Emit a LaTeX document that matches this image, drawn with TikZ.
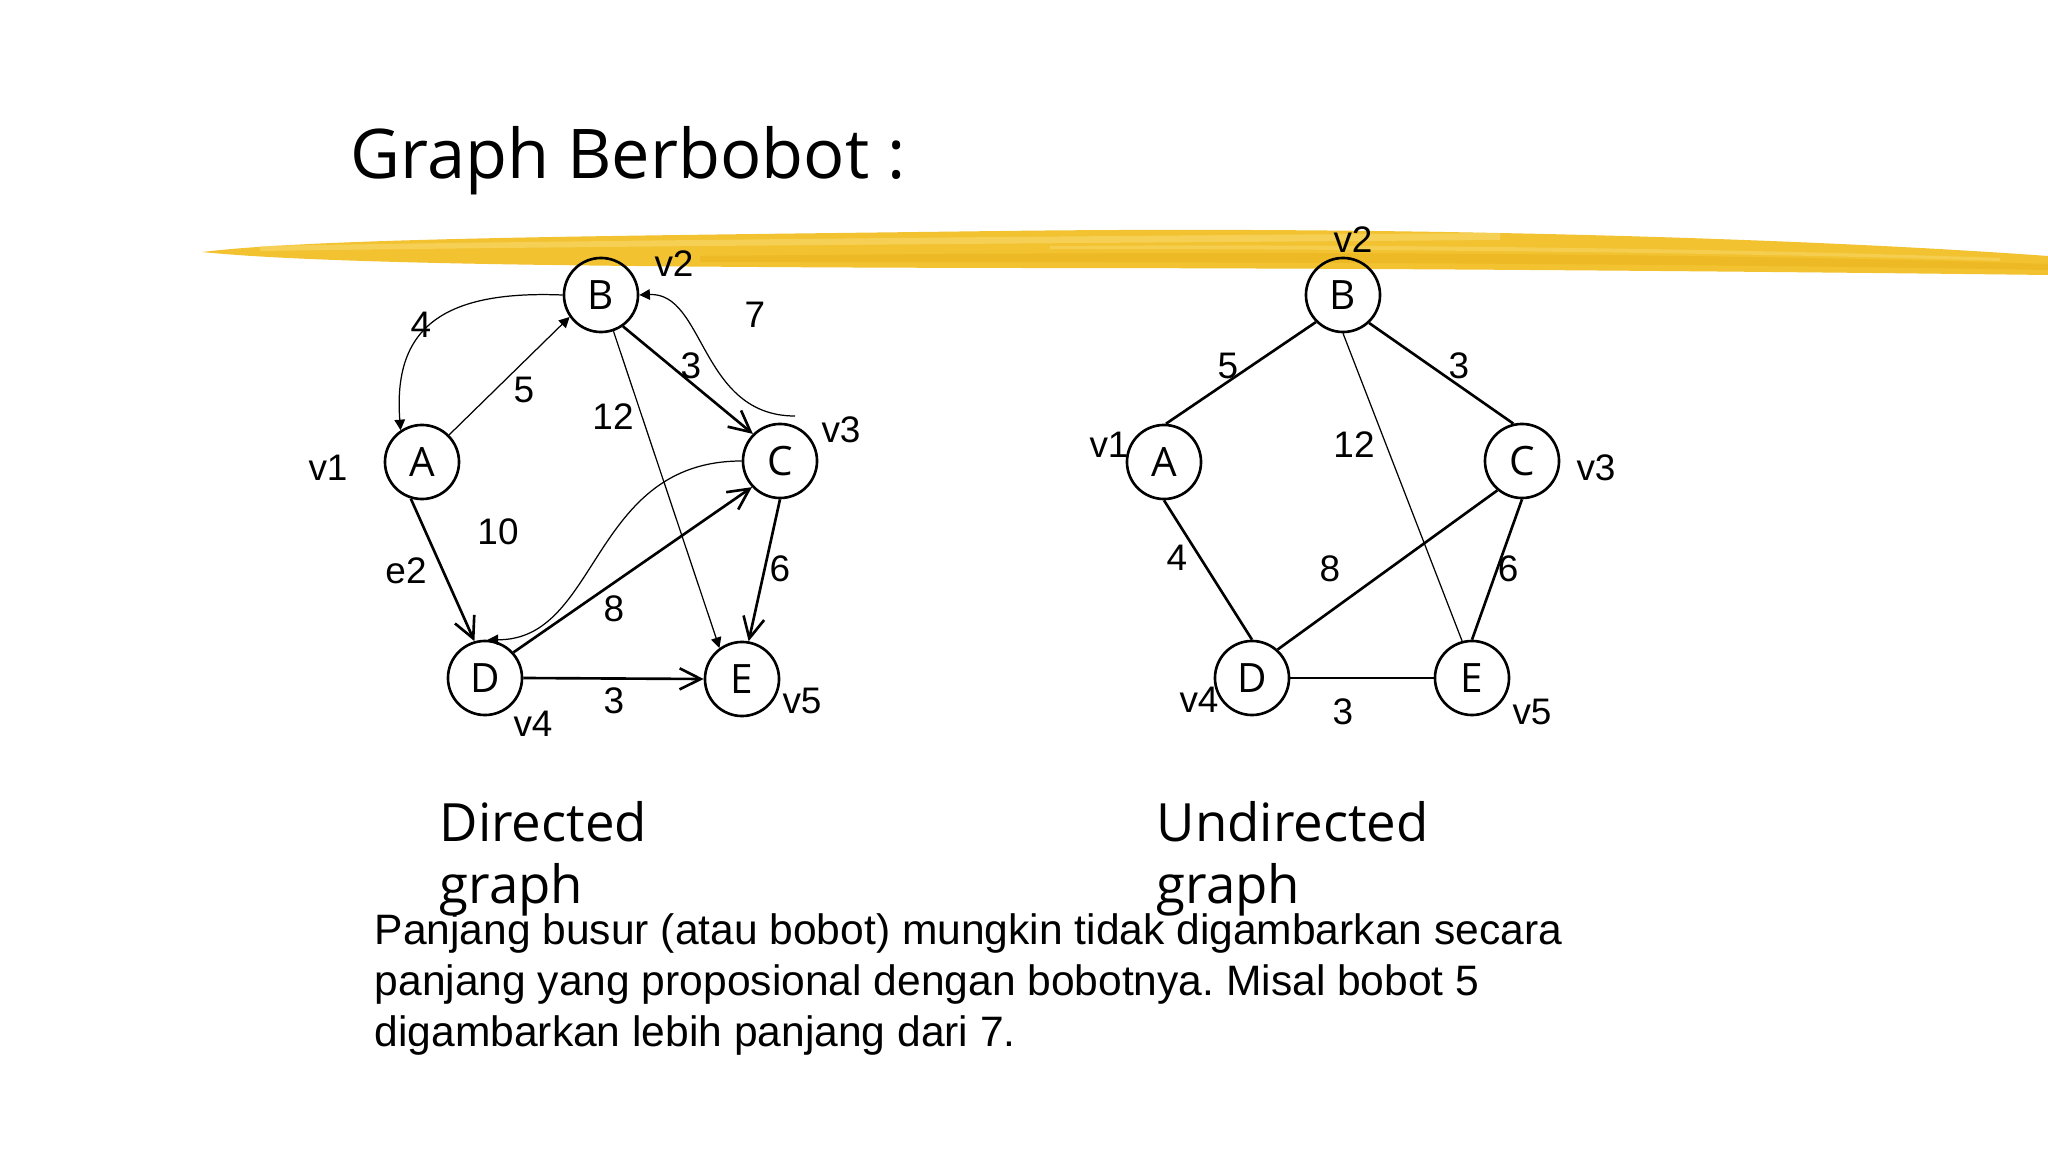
\documentclass[tikz,border=0pt]{standalone}
\usepackage{fontspec}
\setmainfont{Liberation Sans}
\newfontfamily\opensans{Open Sans}
\usetikzlibrary{arrows.meta}
\definecolor{brushyellow}{HTML}{F2C230}
\definecolor{brushlight}{HTML}{F8DA6E}
\definecolor{brushdark}{HTML}{E9B21A}

\begin{document}
\frenchspacing
\begin{tikzpicture}[
    x=0.01cm, y=0.01cm,
    vertex/.style={circle, draw, line width=0.75pt, minimum size=0.74cm, inner sep=0pt, font=\opensans\fontsize{11.5}{13}\selectfont},
    tag/.style={inner sep=1pt, font=\fontsize{10.5}{12}\selectfont},
    heavy/.style={line width=0.75pt},
    light/.style={line width=0.35pt},
    heavyarc/.style={heavy, -{Straight Barb[length=6pt, width=6pt]}},
    lightarc/.style={light, -{Triangle[length=3pt, width=3pt]}},
    caption/.style={anchor=north west, inner sep=0pt, align=left, font=\opensans\fontsize{15}{17.6}\selectfont}
]
    % Page
    \fill[white] (0,0) rectangle (2048,-1152);
    \useasboundingbox (0,0) rectangle (2048,-1152);

    % Brush stroke
    \fill[brushyellow] (202,-252) .. controls (320,-238) and (600,-236) .. (1000,-231) .. controls (1400,-226) and (1800,-238) .. (2048,-256) -- (2048,-275) .. controls (1800,-272) and (1400,-268) .. (1000,-268) .. controls (600,-267) and (320,-264) .. (202,-252) -- cycle;
    \fill[brushlight, opacity=.6] (260,-246) .. controls (600,-240) and (1100,-236) .. (1500,-233) -- (1500,-240) .. controls (1100,-243) and (600,-246) .. (260,-251) -- cycle;
    \fill[brushdark, opacity=.5] (700,-256) .. controls (1100,-252) and (1600,-250) .. (2048,-264) -- (2048,-270) .. controls (1600,-262) and (1100,-262) .. (700,-262) -- cycle;
    \fill[brushlight, opacity=.5] (1050,-246) .. controls (1300,-244) and (1700,-247) .. (2000,-258) -- (2000,-261) .. controls (1700,-251) and (1300,-249) .. (1050,-249) -- cycle;

    % Title
    \node[anchor=base west, inner sep=0pt, font=\opensans\fontsize{19.5}{24}\selectfont] (title) at (350,-179) {Graph Berbobot :};

    % Directed graph
    \node[vertex] (dA) at (422,-462) {A};
    \node[vertex] (dB) at (601,-295) {B};
    \node[vertex] (dC) at (780,-461) {C};
    \node[vertex] (dD) at (485,-678) {D};
    \node[vertex] (dE) at (742,-679) {E};

    \node[tag] (dv1) at (328,-468) {v1};
    \node[tag] (dv2) at (674,-264) {v2};
    \node[tag] (dv3) at (841,-430) {v3};
    \node[tag] (dv4) at (533,-724) {v4};
    \node[tag] (dv5) at (802,-701) {v5};

    \coordinate (dCtop) at (795,-416);
    \draw[lightarc] (dB.west) .. controls (440,-290) and (393,-330) .. (dA.124);
    \draw[lightarc] (dA.45) -- (dB.215);
    \draw[heavyarc] (dB.-55) -- (dC.135);
    \draw[lightarc] (dCtop) .. controls (700,-416) and (705,-292) .. (dB.east);
    \draw[lightarc] (dB.-71) -- (dE.126);
    \draw[lightarc] (dC.west) .. controls (590,-461) and (600,-640) .. (dD.86);
    \draw[heavyarc] (dD.42) -- (dC.-137);
    \draw[heavyarc] (dA.-107) -- (dD.106);
    \draw[heavyarc] (dC.-90) -- (dE.80);
    \draw[heavyarc] (dD.east) -- (dE.west);

    \node[tag] (dw4) at (421,-325) {4};
    \node[tag] (dw5) at (524,-390) {5};
    \node[tag] (dw3a) at (691,-366) {3};
    \node[tag] (dw7) at (755,-315) {7};
    \node[tag] (dw12) at (613,-417) {12};
    \node[tag] (dw10) at (498,-532) {10};
    \node[tag] (dwe2) at (406,-571) {e2};
    \node[tag] (dw8) at (614,-609) {8};
    \node[tag] (dw6) at (780,-569) {6};
    \node[tag] (dw3b) at (614,-701) {3};

    % Undirected graph
    \node[vertex] (uA) at (1164,-462) {A};
    \node[vertex] (uB) at (1343,-295) {B};
    \node[vertex] (uC) at (1522,-461) {C};
    \node[vertex] (uD) at (1252,-678) {D};
    \node[vertex] (uE) at (1472,-678) {E};

    \node[tag] (uv1) at (1109,-445) {v1};
    \node[tag] (uv2) at (1353,-240) {v2};
    \node[tag] (uv3) at (1596,-468) {v3};
    \node[tag] (uv4) at (1199,-700) {v4};
    \node[tag] (uv5) at (1532,-712) {v5};

    \draw[heavy] (uB.225) -- (uA.87);
    \draw[heavy] (uB.-47) -- (uC.103);
    \draw[heavy] (uA.-90) -- (uD.90);
    \draw[heavy] (uC.-130) -- (uD.48);
    \draw[heavy] (uC.-90) -- (uE.90);
    \draw[light] (uB.-90) -- (uE.105);
    \draw[heavy] (uD.east) -- (uE.west);

    \node[tag] (uw5) at (1228,-366) {5};
    \node[tag] (uw3a) at (1459,-366) {3};
    \node[tag] (uw12) at (1354,-445) {12};
    \node[tag] (uw4) at (1177,-558) {4};
    \node[tag] (uw8) at (1330,-569) {8};
    \node[tag] (uw6) at (1508,-569) {6};
    \node[tag] (uw3b) at (1343,-712) {3};

    % Captions
    \node[caption] (dcap) at (439,-801) {Directed\\graph};
    \node[caption] (ucap) at (1156,-801) {Undirected\\graph};

    % Note
    \node[anchor=north west, inner sep=0pt, align=left, font=\fontsize{12.1}{14.5}\selectfont] (note) at (374,-913) {Panjang busur (atau bobot) mungkin tidak digambarkan secara\\panjang yang proposional dengan bobotnya. Misal bobot 5\\digambarkan lebih panjang dari 7.};
\end{tikzpicture}
\end{document}
